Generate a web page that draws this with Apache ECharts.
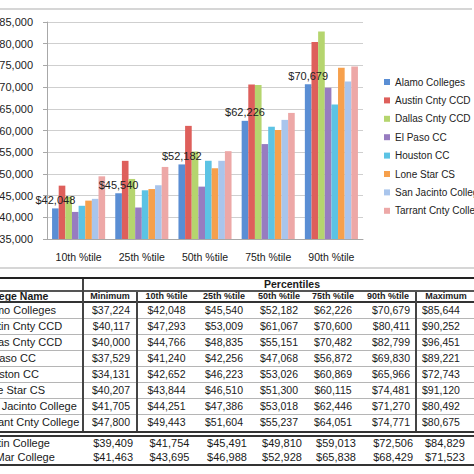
<!DOCTYPE html>
<html>
<head>
<meta charset="utf-8">
<script src="https://cdn.jsdelivr.net/npm/echarts@6/dist/echarts.min.js"></script>
<style>
  html, body { margin:0; padding:0; background:#fff; overflow:hidden; }
  #wrap { position:relative; width:474px; height:474px; overflow:hidden; font-family:"Liberation Sans", Arial, sans-serif; }
  #chart { position:absolute; left:0; top:0; width:474px; height:270px; }
  .ln { position:absolute; }
  .tx { position:absolute; white-space:nowrap; color:#1a1a1a; box-sizing:border-box; }
</style>
</head>
<body>
<div id="wrap">
  <div class="ln" style="left:0;top:8px;width:472px;height:2px;background:#d6d6d6"></div>
  <div class="ln" style="left:0;top:267px;width:474px;height:2px;background:#d6d6d6"></div>
  <div id="chart"></div>
  <div id="tbl"></div>
</div>
<script>
// ---------- data ----------
const categories = ['10th %tile', '25th %tile', '50th %tile', '75th %tile', '90th %tile'];
const colleges = ['Alamo Colleges', 'Austin Cnty CCD', 'Dallas Cnty CCD', 'El Paso CC', 'Houston CC', 'Lone Star CS', 'San Jacinto College', 'Tarrant Cnty College'];
const minimumVals = [37224, 40117, 40000, 37529, 34131, 40207, 41705, 47800];
const p10Vals = [42048, 47293, 44766, 41240, 42652, 43844, 44251, 49443];
const p25Vals = [45540, 53009, 48835, 42256, 46223, 46510, 47386, 51604];
const p50Vals = [52182, 61067, 55151, 47068, 53026, 51300, 53018, 55237];
const p75Vals = [62226, 70600, 70482, 56872, 60869, 60115, 62446, 64051];
const p90Vals = [70679, 80411, 82799, 69830, 65966, 74481, 71270, 74771];
const maximumVals = [85644, 90252, 96451, 89221, 72743, 91120, 80492, 80675];
const extraNames = ['Austin College', 'DelMar College'];
const austinCollegeVals = [39409, 41754, 45491, 49810, 59013, 72506, 84829];
const delMarCollegeVals = [41463, 43695, 46988, 52928, 65838, 68429, 71523];
const tableHeaders = ['College Name', 'Minimum', '10th %tile', '25th %tile', '50th %tile', '75th %tile', '90th %tile', 'Maximum'];
const groupHeader = 'Percentiles';
const labeledSeries = 'Alamo Colleges';
const yMin = 35000, yMax = 85000, yStep = 5000;

// ---------- styles ----------
const colors = ['#5A8ED4', '#DE5F5B', '#B5D56E', '#977CC0', '#5CC3E4', '#F6A04C', '#A9C5EC', '#EDA8A7'];
const money = v => '$' + Number(v).toLocaleString('en-US');

// ---------- chart ----------
const chart = echarts.init(document.getElementById('chart'), null, { renderer: 'svg' });
chart.setOption({
  animation: false,
  color: colors,
  textStyle: { fontFamily: '"Liberation Sans", Arial, sans-serif' },
  grid: { left: 47, right: 111, top: 22, bottom: 31, outerBoundsMode: 'none', containLabel: false },
  legend: {
    orient: 'vertical', left: 379, top: 71,
    icon: 'rect', itemWidth: 6, itemHeight: 6, itemGap: 6.4, itemTextGap: 4,
    selectedMode: false,
    textStyle: { fontSize: 10, color: '#222', lineHeight: 12 },
    data: colleges
  },
  xAxis: {
    type: 'category', data: categories,
    axisLine: { lineStyle: { color: '#a8a8a8' } },
    axisTick: { length: 5, lineStyle: { color: '#a8a8a8' } },
    axisLabel: { fontSize: 10.5, color: '#1a1a1a', margin: 12 }
  },
  yAxis: {
    type: 'value', min: yMin, max: yMax, interval: yStep,
    axisLine: { show: true, lineStyle: { color: '#a8a8a8' } },
    axisTick: { show: true, length: 4, lineStyle: { color: '#a8a8a8' } },
    splitLine: { lineStyle: { color: '#cfcfcf' } },
    axisLabel: { fontSize: 11, color: '#222', margin: 14, formatter: v => money(v) }
  },
  series: colleges.map((name, i) => ({
    type: 'bar', name,
    data: [p10Vals[i], p25Vals[i], p50Vals[i], p75Vals[i], p90Vals[i]],
    barGap: '0%', barCategoryGap: '16%',
    label: name === labeledSeries
      ? { show: true, position: 'top', distance: 3, fontSize: 11, color: '#222', formatter: p => money(p.value) }
      : { show: false }
  }))
});

// ---------- table ----------
const tbl = document.getElementById('tbl');
function line(x, y, w, h, c) {
  const d = document.createElement('div');
  d.className = 'ln';
  d.style.cssText = `left:${x}px;top:${y}px;width:${w}px;height:${h}px;background:${c}`;
  tbl.appendChild(d);
}
function text(t, x, w, y, h, align, pad, size, weight) {
  const d = document.createElement('div');
  d.className = 'tx';
  d.textContent = t;
  let padCss = align === 'left' ? `padding-left:${pad}px` : align === 'right' ? `padding-right:${pad}px` : '';
  d.style.cssText = `left:${x}px;top:${y}px;width:${w}px;height:${h}px;line-height:${h}px;text-align:${align};font-size:${size}px;font-weight:${weight};${padCss}`;
  tbl.appendChild(d);
}
const cols = [
  { x: -40, w: 123, align: 'left', pad: 19 },
  { x: 83, w: 54, align: 'right', pad: 7 },
  { x: 137, w: 59, align: 'center', pad: 0 },
  { x: 196, w: 56, align: 'center', pad: 0 },
  { x: 252, w: 54, align: 'center', pad: 0 },
  { x: 306, w: 54, align: 'center', pad: 0 },
  { x: 360, w: 56, align: 'right', pad: 6 },
  { x: 416, w: 60, align: 'left', pad: 6 }
];
line(0, 277, 474, 2, '#222');
text(groupHeader, 264, 80, 279, 11, 'left', 0, 10.5, 'bold');
line(0, 290, 474, 2, '#555');
tableHeaders.forEach((h, j) => {
  const c = cols[j];
  text(h, c.x, c.w, 292, 9, j === 0 ? 'left' : 'center', j === 0 ? 19 : 0, j === 0 ? 10.5 : 9, 'bold');
});
line(0, 301, 474, 2, '#333');
const rowTop = 303, rowH = 16;
colleges.forEach((name, i) => {
  const y = rowTop + i * rowH;
  const vals = [minimumVals[i], p10Vals[i], p25Vals[i], p50Vals[i], p75Vals[i], p90Vals[i], maximumVals[i]];
  text(name, cols[0].x, cols[0].w, y, rowH - 1, 'left', cols[0].pad, 11, 'normal');
  vals.forEach((v, j) => {
    const c = cols[j + 1];
    text(money(v), c.x, c.w, y, rowH - 1, c.align, c.pad, 10.5, 'normal');
  });
  if (i < colleges.length - 1) line(0, y + rowH - 1, 474, 1, '#b5b5b5');
});
const tableBottom = rowTop + colleges.length * rowH;
line(82, 279, 1.5, tableBottom - 279, '#444');
line(136, 292, 1.5, tableBottom - 292, '#444');
line(415, 292, 1.5, tableBottom - 292, '#444');
line(0, tableBottom, 474, 2, '#333');
line(0, tableBottom + 4, 474, 2, '#333');
const extraTop = tableBottom + 6, extraH = 13.5;
[austinCollegeVals, delMarCollegeVals].forEach((vals, i) => {
  const y = extraTop + i * extraH;
  text(extraNames[i], cols[0].x, cols[0].w, y, extraH, 'left', cols[0].pad, 11, 'normal');
  vals.forEach((v, j) => {
    const c = cols[j + 1];
    text(money(v), c.x + 3, c.w, y, extraH, c.align, c.pad, 11, 'normal');
  });
});
line(0, extraTop + 2 * extraH, 474, 2, '#333');
</script>
</body>
</html>
